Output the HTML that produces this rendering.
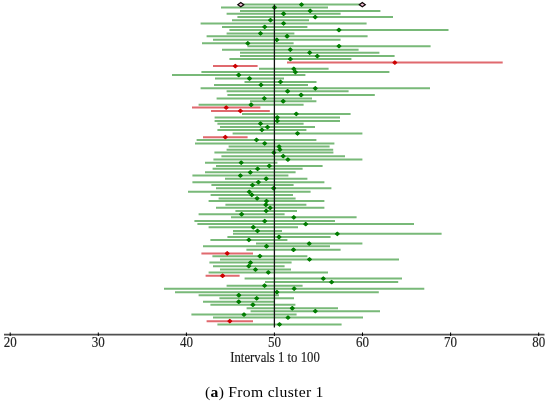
<!DOCTYPE html>
<html><head><meta charset="utf-8"><style>
html,body{margin:0;padding:0;background:#fff;width:550px;height:406px;overflow:hidden;}
#c{position:relative;width:550px;height:406px;}
svg{position:absolute;left:0;top:0;}
.tl{position:absolute;top:335px;width:40px;text-align:center;font-family:"Liberation Serif",serif;font-size:13px;line-height:16px;color:#222;transform:scaleY(1.13);transform-origin:50% 13px;-webkit-text-stroke:0.15px #222;}
.xl{position:absolute;top:350px;left:0;width:550px;text-align:center;font-family:"Liberation Serif",serif;font-size:13px;line-height:16px;color:#1a1a1a;transform:scale(0.98,1.1);transform-origin:274.5px 13px;-webkit-text-stroke:0.15px #1a1a1a;}
.cap{position:absolute;top:384px;left:205px;white-space:nowrap;font-family:"Liberation Serif",serif;font-size:14px;letter-spacing:0.25px;line-height:18px;color:#000;transform:scale(1.12,1.03);transform-origin:0 14px;}
</style></head><body><div id="c">
<svg width="550" height="406" viewBox="0 0 550 406">
<g stroke-width="2">
<line x1="241.0" y1="4.55" x2="362.0" y2="4.55" stroke="#78b978"/><line x1="221.0" y1="7.51" x2="328.0" y2="7.51" stroke="#78b978"/><line x1="240.0" y1="10.88" x2="380.4" y2="10.88" stroke="#78b978"/><line x1="226.6" y1="13.72" x2="340.6" y2="13.72" stroke="#78b978"/><line x1="237.4" y1="17.10" x2="393.0" y2="17.10" stroke="#78b978"/><line x1="232.0" y1="20.14" x2="309.0" y2="20.14" stroke="#78b978"/><line x1="200.6" y1="23.45" x2="366.6" y2="23.45" stroke="#78b978"/><line x1="222.0" y1="26.96" x2="307.4" y2="26.96" stroke="#78b978"/><line x1="229.4" y1="29.97" x2="448.5" y2="29.97" stroke="#78b978"/><line x1="226.6" y1="33.38" x2="294.4" y2="33.38" stroke="#78b978"/><line x1="206.6" y1="36.28" x2="367.6" y2="36.28" stroke="#78b978"/><line x1="213.0" y1="39.79" x2="340.6" y2="39.79" stroke="#78b978"/><line x1="202.0" y1="43.30" x2="293.6" y2="43.30" stroke="#78b978"/><line x1="247.4" y1="46.21" x2="430.6" y2="46.21" stroke="#78b978"/><line x1="222.0" y1="49.67" x2="358.6" y2="49.67" stroke="#78b978"/><line x1="240.0" y1="52.67" x2="379.4" y2="52.67" stroke="#78b978"/><line x1="240.0" y1="56.08" x2="394.6" y2="56.08" stroke="#78b978"/><line x1="229.4" y1="59.04" x2="351.4" y2="59.04" stroke="#78b978"/><line x1="287.0" y1="62.55" x2="502.7" y2="62.55" stroke="#e0696e"/><line x1="213.0" y1="66.06" x2="257.6" y2="66.06" stroke="#e0696e"/><line x1="259.0" y1="68.87" x2="328.6" y2="68.87" stroke="#78b978"/><line x1="201.4" y1="72.08" x2="389.4" y2="72.08" stroke="#78b978"/><line x1="172.0" y1="74.98" x2="305.4" y2="74.98" stroke="#78b978"/><line x1="215.0" y1="78.49" x2="284.0" y2="78.49" stroke="#78b978"/><line x1="244.5" y1="81.90" x2="316.5" y2="81.90" stroke="#78b978"/><line x1="214.0" y1="84.91" x2="308.0" y2="84.91" stroke="#78b978"/><line x1="200.6" y1="88.32" x2="430.0" y2="88.32" stroke="#78b978"/><line x1="226.6" y1="91.22" x2="348.6" y2="91.22" stroke="#78b978"/><line x1="227.4" y1="95.03" x2="374.8" y2="95.03" stroke="#78b978"/><line x1="216.6" y1="98.44" x2="312.0" y2="98.44" stroke="#78b978"/><line x1="250.0" y1="101.25" x2="316.4" y2="101.25" stroke="#78b978"/><line x1="198.6" y1="104.75" x2="303.6" y2="104.75" stroke="#78b978"/><line x1="192.0" y1="107.55" x2="260.4" y2="107.55" stroke="#e0696e"/><line x1="211.0" y1="110.95" x2="269.8" y2="110.95" stroke="#e0696e"/><line x1="242.0" y1="113.95" x2="350.6" y2="113.95" stroke="#78b978"/><line x1="214.6" y1="117.45" x2="340.0" y2="117.45" stroke="#78b978"/><line x1="214.6" y1="120.95" x2="340.0" y2="120.95" stroke="#78b978"/><line x1="217.4" y1="123.65" x2="303.6" y2="123.65" stroke="#78b978"/><line x1="220.0" y1="127.10" x2="315.0" y2="127.10" stroke="#78b978"/><line x1="217.4" y1="129.95" x2="306.4" y2="129.95" stroke="#78b978"/><line x1="232.6" y1="133.45" x2="362.4" y2="133.45" stroke="#78b978"/><line x1="203.0" y1="137.15" x2="247.6" y2="137.15" stroke="#e0696e"/><line x1="196.6" y1="139.95" x2="316.4" y2="139.95" stroke="#78b978"/><line x1="195.0" y1="143.45" x2="334.4" y2="143.45" stroke="#78b978"/><line x1="228.6" y1="146.55" x2="329.6" y2="146.55" stroke="#78b978"/><line x1="226.6" y1="149.65" x2="333.2" y2="149.65" stroke="#78b978"/><line x1="214.4" y1="152.55" x2="333.4" y2="152.55" stroke="#78b978"/><line x1="221.4" y1="156.15" x2="345.0" y2="156.15" stroke="#78b978"/><line x1="213.4" y1="159.55" x2="362.4" y2="159.55" stroke="#78b978"/><line x1="205.0" y1="162.70" x2="277.4" y2="162.70" stroke="#78b978"/><line x1="216.0" y1="165.95" x2="322.6" y2="165.95" stroke="#78b978"/><line x1="212.6" y1="168.85" x2="302.6" y2="168.85" stroke="#78b978"/><line x1="205.0" y1="172.35" x2="295.6" y2="172.35" stroke="#78b978"/><line x1="192.4" y1="175.55" x2="288.4" y2="175.55" stroke="#78b978"/><line x1="225.0" y1="178.75" x2="307.4" y2="178.75" stroke="#78b978"/><line x1="192.4" y1="182.20" x2="324.4" y2="182.20" stroke="#78b978"/><line x1="211.4" y1="185.05" x2="293.6" y2="185.05" stroke="#78b978"/><line x1="216.0" y1="188.25" x2="331.4" y2="188.25" stroke="#78b978"/><line x1="188.0" y1="191.85" x2="310.6" y2="191.85" stroke="#78b978"/><line x1="210.6" y1="194.95" x2="293.0" y2="194.95" stroke="#78b978"/><line x1="218.6" y1="198.45" x2="295.6" y2="198.45" stroke="#78b978"/><line x1="208.6" y1="201.05" x2="324.4" y2="201.05" stroke="#78b978"/><line x1="225.4" y1="204.75" x2="306.4" y2="204.75" stroke="#78b978"/><line x1="216.0" y1="207.85" x2="324.4" y2="207.85" stroke="#78b978"/><line x1="235.4" y1="210.95" x2="297.0" y2="210.95" stroke="#78b978"/><line x1="198.6" y1="214.25" x2="284.6" y2="214.25" stroke="#78b978"/><line x1="231.0" y1="217.35" x2="356.6" y2="217.35" stroke="#78b978"/><line x1="194.4" y1="221.05" x2="335.0" y2="221.05" stroke="#78b978"/><line x1="197.4" y1="224.05" x2="414.0" y2="224.05" stroke="#78b978"/><line x1="208.6" y1="227.25" x2="298.0" y2="227.25" stroke="#78b978"/><line x1="233.0" y1="230.95" x2="282.0" y2="230.95" stroke="#78b978"/><line x1="233.0" y1="233.85" x2="441.6" y2="233.85" stroke="#78b978"/><line x1="227.4" y1="237.00" x2="330.6" y2="237.00" stroke="#78b978"/><line x1="210.4" y1="239.95" x2="287.4" y2="239.95" stroke="#78b978"/><line x1="256.0" y1="243.55" x2="362.4" y2="243.55" stroke="#78b978"/><line x1="203.0" y1="246.25" x2="330.0" y2="246.25" stroke="#78b978"/><line x1="246.4" y1="249.75" x2="340.6" y2="249.75" stroke="#78b978"/><line x1="201.4" y1="253.40" x2="253.0" y2="253.40" stroke="#e0696e"/><line x1="212.4" y1="256.15" x2="307.4" y2="256.15" stroke="#78b978"/><line x1="220.0" y1="259.45" x2="399.0" y2="259.45" stroke="#78b978"/><line x1="209.4" y1="262.55" x2="291.6" y2="262.55" stroke="#78b978"/><line x1="213.0" y1="266.15" x2="284.6" y2="266.15" stroke="#78b978"/><line x1="220.0" y1="269.55" x2="291.0" y2="269.55" stroke="#78b978"/><line x1="208.6" y1="272.45" x2="328.0" y2="272.45" stroke="#78b978"/><line x1="205.6" y1="275.75" x2="239.6" y2="275.75" stroke="#e0696e"/><line x1="244.6" y1="278.55" x2="402.0" y2="278.55" stroke="#78b978"/><line x1="265.0" y1="282.05" x2="398.2" y2="282.05" stroke="#78b978"/><line x1="226.6" y1="285.65" x2="302.6" y2="285.65" stroke="#78b978"/><line x1="164.0" y1="288.65" x2="424.3" y2="288.65" stroke="#78b978"/><line x1="175.0" y1="292.15" x2="378.8" y2="292.15" stroke="#78b978"/><line x1="198.6" y1="295.25" x2="279.0" y2="295.25" stroke="#78b978"/><line x1="219.4" y1="298.35" x2="294.0" y2="298.35" stroke="#78b978"/><line x1="203.0" y1="301.75" x2="274.5" y2="301.75" stroke="#78b978"/><line x1="210.4" y1="304.75" x2="295.4" y2="304.75" stroke="#78b978"/><line x1="246.6" y1="308.25" x2="338.0" y2="308.25" stroke="#78b978"/><line x1="250.6" y1="311.15" x2="380.0" y2="311.15" stroke="#78b978"/><line x1="191.4" y1="314.55" x2="296.6" y2="314.55" stroke="#78b978"/><line x1="213.0" y1="317.55" x2="363.0" y2="317.55" stroke="#78b978"/><line x1="206.6" y1="321.15" x2="253.0" y2="321.15" stroke="#e0696e"/><line x1="217.4" y1="324.45" x2="341.6" y2="324.45" stroke="#78b978"/>
</g>
<path d="M272.55 7.51L274.50 5.76L276.45 7.51L274.50 9.26Z" fill="#007d00" stroke="#007d00" stroke-width="1.1" stroke-linejoin="round"/><path d="M308.25 10.88L310.20 9.13L312.15 10.88L310.20 12.63Z" fill="#007d00" stroke="#007d00" stroke-width="1.1" stroke-linejoin="round"/><path d="M281.65 13.72L283.60 11.97L285.55 13.72L283.60 15.47Z" fill="#007d00" stroke="#007d00" stroke-width="1.1" stroke-linejoin="round"/><path d="M313.25 17.10L315.20 15.35L317.15 17.10L315.20 18.85Z" fill="#007d00" stroke="#007d00" stroke-width="1.1" stroke-linejoin="round"/><path d="M268.55 20.14L270.50 18.39L272.45 20.14L270.50 21.89Z" fill="#007d00" stroke="#007d00" stroke-width="1.1" stroke-linejoin="round"/><path d="M281.65 23.45L283.60 21.70L285.55 23.45L283.60 25.20Z" fill="#007d00" stroke="#007d00" stroke-width="1.1" stroke-linejoin="round"/><path d="M262.75 26.96L264.70 25.21L266.65 26.96L264.70 28.71Z" fill="#007d00" stroke="#007d00" stroke-width="1.1" stroke-linejoin="round"/><path d="M337.00 29.97L338.95 28.22L340.90 29.97L338.95 31.72Z" fill="#007d00" stroke="#007d00" stroke-width="1.1" stroke-linejoin="round"/><path d="M258.55 33.38L260.50 31.63L262.45 33.38L260.50 35.13Z" fill="#007d00" stroke="#007d00" stroke-width="1.1" stroke-linejoin="round"/><path d="M285.15 36.28L287.10 34.53L289.05 36.28L287.10 38.03Z" fill="#007d00" stroke="#007d00" stroke-width="1.1" stroke-linejoin="round"/><path d="M274.85 39.79L276.80 38.04L278.75 39.79L276.80 41.54Z" fill="#007d00" stroke="#007d00" stroke-width="1.1" stroke-linejoin="round"/><path d="M245.85 43.30L247.80 41.55L249.75 43.30L247.80 45.05Z" fill="#007d00" stroke="#007d00" stroke-width="1.1" stroke-linejoin="round"/><path d="M337.05 46.21L339.00 44.46L340.95 46.21L339.00 47.96Z" fill="#007d00" stroke="#007d00" stroke-width="1.1" stroke-linejoin="round"/><path d="M288.35 49.67L290.30 47.92L292.25 49.67L290.30 51.42Z" fill="#007d00" stroke="#007d00" stroke-width="1.1" stroke-linejoin="round"/><path d="M307.75 52.67L309.70 50.92L311.65 52.67L309.70 54.42Z" fill="#007d00" stroke="#007d00" stroke-width="1.1" stroke-linejoin="round"/><path d="M315.35 56.08L317.30 54.33L319.25 56.08L317.30 57.83Z" fill="#007d00" stroke="#007d00" stroke-width="1.1" stroke-linejoin="round"/><path d="M288.45 59.04L290.40 57.29L292.35 59.04L290.40 60.79Z" fill="#007d00" stroke="#007d00" stroke-width="1.1" stroke-linejoin="round"/><path d="M392.90 62.55L394.85 60.80L396.80 62.55L394.85 64.30Z" fill="#cc0000" stroke="#cc0000" stroke-width="1.1" stroke-linejoin="round"/><path d="M233.35 66.06L235.30 64.31L237.25 66.06L235.30 67.81Z" fill="#cc0000" stroke="#cc0000" stroke-width="1.1" stroke-linejoin="round"/><path d="M291.85 68.87L293.80 67.12L295.75 68.87L293.80 70.62Z" fill="#007d00" stroke="#007d00" stroke-width="1.1" stroke-linejoin="round"/><path d="M293.45 72.08L295.40 70.33L297.35 72.08L295.40 73.83Z" fill="#007d00" stroke="#007d00" stroke-width="1.1" stroke-linejoin="round"/><path d="M236.75 74.98L238.70 73.23L240.65 74.98L238.70 76.73Z" fill="#007d00" stroke="#007d00" stroke-width="1.1" stroke-linejoin="round"/><path d="M247.55 78.49L249.50 76.74L251.45 78.49L249.50 80.24Z" fill="#007d00" stroke="#007d00" stroke-width="1.1" stroke-linejoin="round"/><path d="M278.55 81.90L280.50 80.15L282.45 81.90L280.50 83.65Z" fill="#007d00" stroke="#007d00" stroke-width="1.1" stroke-linejoin="round"/><path d="M259.05 84.91L261.00 83.16L262.95 84.91L261.00 86.66Z" fill="#007d00" stroke="#007d00" stroke-width="1.1" stroke-linejoin="round"/><path d="M313.35 88.32L315.30 86.57L317.25 88.32L315.30 90.07Z" fill="#007d00" stroke="#007d00" stroke-width="1.1" stroke-linejoin="round"/><path d="M285.65 91.22L287.60 89.47L289.55 91.22L287.60 92.97Z" fill="#007d00" stroke="#007d00" stroke-width="1.1" stroke-linejoin="round"/><path d="M299.15 95.03L301.10 93.28L303.05 95.03L301.10 96.78Z" fill="#007d00" stroke="#007d00" stroke-width="1.1" stroke-linejoin="round"/><path d="M262.35 98.44L264.30 96.69L266.25 98.44L264.30 100.19Z" fill="#007d00" stroke="#007d00" stroke-width="1.1" stroke-linejoin="round"/><path d="M281.25 101.25L283.20 99.50L285.15 101.25L283.20 103.00Z" fill="#007d00" stroke="#007d00" stroke-width="1.1" stroke-linejoin="round"/><path d="M249.15 104.75L251.10 103.00L253.05 104.75L251.10 106.50Z" fill="#007d00" stroke="#007d00" stroke-width="1.1" stroke-linejoin="round"/><path d="M224.25 107.55L226.20 105.80L228.15 107.55L226.20 109.30Z" fill="#cc0000" stroke="#cc0000" stroke-width="1.1" stroke-linejoin="round"/><path d="M238.45 110.95L240.40 109.20L242.35 110.95L240.40 112.70Z" fill="#cc0000" stroke="#cc0000" stroke-width="1.1" stroke-linejoin="round"/><path d="M294.35 113.95L296.30 112.20L298.25 113.95L296.30 115.70Z" fill="#007d00" stroke="#007d00" stroke-width="1.1" stroke-linejoin="round"/><path d="M275.35 117.45L277.30 115.70L279.25 117.45L277.30 119.20Z" fill="#007d00" stroke="#007d00" stroke-width="1.1" stroke-linejoin="round"/><path d="M275.35 120.95L277.30 119.20L279.25 120.95L277.30 122.70Z" fill="#007d00" stroke="#007d00" stroke-width="1.1" stroke-linejoin="round"/><path d="M258.55 123.65L260.50 121.90L262.45 123.65L260.50 125.40Z" fill="#007d00" stroke="#007d00" stroke-width="1.1" stroke-linejoin="round"/><path d="M265.55 127.10L267.50 125.35L269.45 127.10L267.50 128.85Z" fill="#007d00" stroke="#007d00" stroke-width="1.1" stroke-linejoin="round"/><path d="M259.95 129.95L261.90 128.20L263.85 129.95L261.90 131.70Z" fill="#007d00" stroke="#007d00" stroke-width="1.1" stroke-linejoin="round"/><path d="M295.55 133.45L297.50 131.70L299.45 133.45L297.50 135.20Z" fill="#007d00" stroke="#007d00" stroke-width="1.1" stroke-linejoin="round"/><path d="M223.35 137.15L225.30 135.40L227.25 137.15L225.30 138.90Z" fill="#cc0000" stroke="#cc0000" stroke-width="1.1" stroke-linejoin="round"/><path d="M254.55 139.95L256.50 138.20L258.45 139.95L256.50 141.70Z" fill="#007d00" stroke="#007d00" stroke-width="1.1" stroke-linejoin="round"/><path d="M262.75 143.45L264.70 141.70L266.65 143.45L264.70 145.20Z" fill="#007d00" stroke="#007d00" stroke-width="1.1" stroke-linejoin="round"/><path d="M277.15 146.55L279.10 144.80L281.05 146.55L279.10 148.30Z" fill="#007d00" stroke="#007d00" stroke-width="1.1" stroke-linejoin="round"/><path d="M277.95 149.65L279.90 147.90L281.85 149.65L279.90 151.40Z" fill="#007d00" stroke="#007d00" stroke-width="1.1" stroke-linejoin="round"/><path d="M271.95 152.55L273.90 150.80L275.85 152.55L273.90 154.30Z" fill="#007d00" stroke="#007d00" stroke-width="1.1" stroke-linejoin="round"/><path d="M281.25 156.15L283.20 154.40L285.15 156.15L283.20 157.90Z" fill="#007d00" stroke="#007d00" stroke-width="1.1" stroke-linejoin="round"/><path d="M285.95 159.55L287.90 157.80L289.85 159.55L287.90 161.30Z" fill="#007d00" stroke="#007d00" stroke-width="1.1" stroke-linejoin="round"/><path d="M239.25 162.70L241.20 160.95L243.15 162.70L241.20 164.45Z" fill="#007d00" stroke="#007d00" stroke-width="1.1" stroke-linejoin="round"/><path d="M267.35 165.95L269.30 164.20L271.25 165.95L269.30 167.70Z" fill="#007d00" stroke="#007d00" stroke-width="1.1" stroke-linejoin="round"/><path d="M255.65 168.85L257.60 167.10L259.55 168.85L257.60 170.60Z" fill="#007d00" stroke="#007d00" stroke-width="1.1" stroke-linejoin="round"/><path d="M248.35 172.35L250.30 170.60L252.25 172.35L250.30 174.10Z" fill="#007d00" stroke="#007d00" stroke-width="1.1" stroke-linejoin="round"/><path d="M238.45 175.55L240.40 173.80L242.35 175.55L240.40 177.30Z" fill="#007d00" stroke="#007d00" stroke-width="1.1" stroke-linejoin="round"/><path d="M264.25 178.75L266.20 177.00L268.15 178.75L266.20 180.50Z" fill="#007d00" stroke="#007d00" stroke-width="1.1" stroke-linejoin="round"/><path d="M256.45 182.20L258.40 180.45L260.35 182.20L258.40 183.95Z" fill="#007d00" stroke="#007d00" stroke-width="1.1" stroke-linejoin="round"/><path d="M250.55 185.05L252.50 183.30L254.45 185.05L252.50 186.80Z" fill="#007d00" stroke="#007d00" stroke-width="1.1" stroke-linejoin="round"/><path d="M271.75 188.25L273.70 186.50L275.65 188.25L273.70 190.00Z" fill="#007d00" stroke="#007d00" stroke-width="1.1" stroke-linejoin="round"/><path d="M247.35 191.85L249.30 190.10L251.25 191.85L249.30 193.60Z" fill="#007d00" stroke="#007d00" stroke-width="1.1" stroke-linejoin="round"/><path d="M249.85 194.95L251.80 193.20L253.75 194.95L251.80 196.70Z" fill="#007d00" stroke="#007d00" stroke-width="1.1" stroke-linejoin="round"/><path d="M255.15 198.45L257.10 196.70L259.05 198.45L257.10 200.20Z" fill="#007d00" stroke="#007d00" stroke-width="1.1" stroke-linejoin="round"/><path d="M264.55 201.05L266.50 199.30L268.45 201.05L266.50 202.80Z" fill="#007d00" stroke="#007d00" stroke-width="1.1" stroke-linejoin="round"/><path d="M263.95 204.75L265.90 203.00L267.85 204.75L265.90 206.50Z" fill="#007d00" stroke="#007d00" stroke-width="1.1" stroke-linejoin="round"/><path d="M268.25 207.85L270.20 206.10L272.15 207.85L270.20 209.60Z" fill="#007d00" stroke="#007d00" stroke-width="1.1" stroke-linejoin="round"/><path d="M264.25 210.95L266.20 209.20L268.15 210.95L266.20 212.70Z" fill="#007d00" stroke="#007d00" stroke-width="1.1" stroke-linejoin="round"/><path d="M239.65 214.25L241.60 212.50L243.55 214.25L241.60 216.00Z" fill="#007d00" stroke="#007d00" stroke-width="1.1" stroke-linejoin="round"/><path d="M291.85 217.35L293.80 215.60L295.75 217.35L293.80 219.10Z" fill="#007d00" stroke="#007d00" stroke-width="1.1" stroke-linejoin="round"/><path d="M262.75 221.05L264.70 219.30L266.65 221.05L264.70 222.80Z" fill="#007d00" stroke="#007d00" stroke-width="1.1" stroke-linejoin="round"/><path d="M303.75 224.05L305.70 222.30L307.65 224.05L305.70 225.80Z" fill="#007d00" stroke="#007d00" stroke-width="1.1" stroke-linejoin="round"/><path d="M251.35 227.25L253.30 225.50L255.25 227.25L253.30 229.00Z" fill="#007d00" stroke="#007d00" stroke-width="1.1" stroke-linejoin="round"/><path d="M255.55 230.95L257.50 229.20L259.45 230.95L257.50 232.70Z" fill="#007d00" stroke="#007d00" stroke-width="1.1" stroke-linejoin="round"/><path d="M335.35 233.85L337.30 232.10L339.25 233.85L337.30 235.60Z" fill="#007d00" stroke="#007d00" stroke-width="1.1" stroke-linejoin="round"/><path d="M277.05 237.00L279.00 235.25L280.95 237.00L279.00 238.75Z" fill="#007d00" stroke="#007d00" stroke-width="1.1" stroke-linejoin="round"/><path d="M246.95 239.95L248.90 238.20L250.85 239.95L248.90 241.70Z" fill="#007d00" stroke="#007d00" stroke-width="1.1" stroke-linejoin="round"/><path d="M307.25 243.55L309.20 241.80L311.15 243.55L309.20 245.30Z" fill="#007d00" stroke="#007d00" stroke-width="1.1" stroke-linejoin="round"/><path d="M264.55 246.25L266.50 244.50L268.45 246.25L266.50 248.00Z" fill="#007d00" stroke="#007d00" stroke-width="1.1" stroke-linejoin="round"/><path d="M291.55 249.75L293.50 248.00L295.45 249.75L293.50 251.50Z" fill="#007d00" stroke="#007d00" stroke-width="1.1" stroke-linejoin="round"/><path d="M225.25 253.40L227.20 251.65L229.15 253.40L227.20 255.15Z" fill="#cc0000" stroke="#cc0000" stroke-width="1.1" stroke-linejoin="round"/><path d="M257.95 256.15L259.90 254.40L261.85 256.15L259.90 257.90Z" fill="#007d00" stroke="#007d00" stroke-width="1.1" stroke-linejoin="round"/><path d="M307.55 259.45L309.50 257.70L311.45 259.45L309.50 261.20Z" fill="#007d00" stroke="#007d00" stroke-width="1.1" stroke-linejoin="round"/><path d="M248.55 262.55L250.50 260.80L252.45 262.55L250.50 264.30Z" fill="#007d00" stroke="#007d00" stroke-width="1.1" stroke-linejoin="round"/><path d="M246.85 266.15L248.80 264.40L250.75 266.15L248.80 267.90Z" fill="#007d00" stroke="#007d00" stroke-width="1.1" stroke-linejoin="round"/><path d="M253.55 269.55L255.50 267.80L257.45 269.55L255.50 271.30Z" fill="#007d00" stroke="#007d00" stroke-width="1.1" stroke-linejoin="round"/><path d="M266.35 272.45L268.30 270.70L270.25 272.45L268.30 274.20Z" fill="#007d00" stroke="#007d00" stroke-width="1.1" stroke-linejoin="round"/><path d="M220.65 275.75L222.60 274.00L224.55 275.75L222.60 277.50Z" fill="#cc0000" stroke="#cc0000" stroke-width="1.1" stroke-linejoin="round"/><path d="M321.35 278.55L323.30 276.80L325.25 278.55L323.30 280.30Z" fill="#007d00" stroke="#007d00" stroke-width="1.1" stroke-linejoin="round"/><path d="M329.65 282.05L331.60 280.30L333.55 282.05L331.60 283.80Z" fill="#007d00" stroke="#007d00" stroke-width="1.1" stroke-linejoin="round"/><path d="M262.65 285.65L264.60 283.90L266.55 285.65L264.60 287.40Z" fill="#007d00" stroke="#007d00" stroke-width="1.1" stroke-linejoin="round"/><path d="M292.20 288.65L294.15 286.90L296.10 288.65L294.15 290.40Z" fill="#007d00" stroke="#007d00" stroke-width="1.1" stroke-linejoin="round"/><path d="M274.95 292.15L276.90 290.40L278.85 292.15L276.90 293.90Z" fill="#007d00" stroke="#007d00" stroke-width="1.1" stroke-linejoin="round"/><path d="M236.85 295.25L238.80 293.50L240.75 295.25L238.80 297.00Z" fill="#007d00" stroke="#007d00" stroke-width="1.1" stroke-linejoin="round"/><path d="M254.75 298.35L256.70 296.60L258.65 298.35L256.70 300.10Z" fill="#007d00" stroke="#007d00" stroke-width="1.1" stroke-linejoin="round"/><path d="M236.80 301.75L238.75 300.00L240.70 301.75L238.75 303.50Z" fill="#007d00" stroke="#007d00" stroke-width="1.1" stroke-linejoin="round"/><path d="M250.95 304.75L252.90 303.00L254.85 304.75L252.90 306.50Z" fill="#007d00" stroke="#007d00" stroke-width="1.1" stroke-linejoin="round"/><path d="M290.35 308.25L292.30 306.50L294.25 308.25L292.30 310.00Z" fill="#007d00" stroke="#007d00" stroke-width="1.1" stroke-linejoin="round"/><path d="M313.35 311.15L315.30 309.40L317.25 311.15L315.30 312.90Z" fill="#007d00" stroke="#007d00" stroke-width="1.1" stroke-linejoin="round"/><path d="M242.05 314.55L244.00 312.80L245.95 314.55L244.00 316.30Z" fill="#007d00" stroke="#007d00" stroke-width="1.1" stroke-linejoin="round"/><path d="M286.05 317.55L288.00 315.80L289.95 317.55L288.00 319.30Z" fill="#007d00" stroke="#007d00" stroke-width="1.1" stroke-linejoin="round"/><path d="M227.85 321.15L229.80 319.40L231.75 321.15L229.80 322.90Z" fill="#cc0000" stroke="#cc0000" stroke-width="1.1" stroke-linejoin="round"/><path d="M277.55 324.45L279.50 322.70L281.45 324.45L279.50 326.20Z" fill="#007d00" stroke="#007d00" stroke-width="1.1" stroke-linejoin="round"/>
<path d="M299.55 4.55L301.50 2.80L303.45 4.55L301.50 6.30Z" fill="#007d00" stroke="#007d00" stroke-width="1.1" stroke-linejoin="round"/><polygon points="237.8,4.70 240.8,2.55 243.8,4.70 240.8,6.85" fill="#f4c0d8" stroke="#100808" stroke-width="1.2"/><polygon points="359.3,4.70 362.3,2.55 365.3,4.70 362.3,6.85" fill="#f4c0d8" stroke="#100808" stroke-width="1.2"/>
<line x1="274.4" y1="4.6" x2="274.4" y2="327.5" stroke="#111" stroke-width="1.3"/>
<line x1="4" y1="334.7" x2="544.5" y2="334.7" stroke="#505050" stroke-width="1.8"/>
<line x1="10.2" y1="332.5" x2="10.2" y2="336" stroke="#000" stroke-width="1"/><line x1="98.3" y1="332.5" x2="98.3" y2="336" stroke="#000" stroke-width="1"/><line x1="186.4" y1="332.5" x2="186.4" y2="336" stroke="#000" stroke-width="1"/><line x1="274.4" y1="332.5" x2="274.4" y2="336" stroke="#000" stroke-width="1"/><line x1="362.5" y1="332.5" x2="362.5" y2="336" stroke="#000" stroke-width="1"/><line x1="450.6" y1="332.5" x2="450.6" y2="336" stroke="#000" stroke-width="1"/><line x1="538.7" y1="332.5" x2="538.7" y2="336" stroke="#000" stroke-width="1"/>
</svg>
<div class="tl" style="left:-9.8px">20</div><div class="tl" style="left:78.3px">30</div><div class="tl" style="left:166.4px">40</div><div class="tl" style="left:254.4px">50</div><div class="tl" style="left:342.5px">60</div><div class="tl" style="left:430.6px">70</div><div class="tl" style="left:518.7px">80</div>
<div class="xl">Intervals 1 to 100</div>
<div class="cap">(<b>a</b>) From cluster 1</div>
</div></body></html>
